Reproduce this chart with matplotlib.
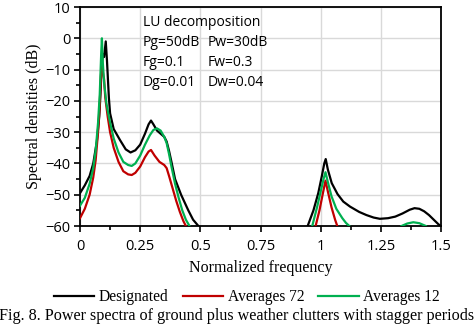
import numpy as np
import matplotlib
matplotlib.use("Agg")
import matplotlib.pyplot as plt
from matplotlib.ticker import MultipleLocator

nan = np.nan

# Designated (black)
x_des = [0, 0.02, 0.04, 0.055, 0.07, 0.08, 0.085, 0.09, 0.095, 0.1, 0.107, 0.112, 0.116,
         0.12, 0.125, 0.14, 0.166, 0.19, 0.21, 0.23, 0.25, 0.27, 0.285, 0.295, 0.305,
         0.32, 0.335, 0.35, 0.36, 0.37, 0.38, 0.395, 0.42, 0.45, 0.47, 0.492,
         nan,
         0.946, 0.97, 0.99, 1.005, 1.015, 1.021, 1.03, 1.046, 1.07, 1.094, 1.122, 1.16,
         1.19, 1.22, 1.246, 1.28, 1.31, 1.34, 1.37, 1.39, 1.41, 1.43, 1.45, 1.47, 1.49, 1.5]
y_des = [-49.5, -47, -44, -40, -33, -25, -18, -9, -5, -6, -1, -7, -13,
         -19, -24, -29, -32.5, -35.5, -36.5, -35.8, -34, -30.5, -27.5, -26.3, -27.5,
         -29.5, -30.5, -31.5, -33, -36, -39.5, -45, -50, -55, -58, -60,
         nan,
         -60, -55, -49.5, -44, -40, -38.6, -42, -46.3, -49.8, -52.2, -53.8, -55.5,
         -56.5, -57.3, -57.7, -57.5, -57, -56, -54.8, -54.3, -54.5, -55.3, -56.5, -58, -59.5, -60]

# Averages 72 (red)
x_a72 = [0, 0.02, 0.04, 0.055, 0.065, 0.075, 0.082, 0.087, 0.09, 0.094, 0.097, 0.1, 0.105,
         0.115, 0.125, 0.14, 0.16, 0.18, 0.2, 0.215, 0.23, 0.25, 0.27, 0.285, 0.295, 0.31,
         0.33, 0.35, 0.36, 0.37, 0.385, 0.4, 0.415, 0.43, 0.44,
         nan,
         0.979, 0.995, 1.008, 1.02, 1.03, 1.045, 1.06, 1.069]
y_a72 = [-57.5, -54.5, -50, -44.5, -39, -30, -21, -12, -8.5, -10, -12, -13, -19,
         -25, -30, -35, -39.5, -42.5, -43.5, -43.7, -43, -41, -38, -36.2, -35.7, -37.5,
         -39.5, -40.5, -41.5, -44, -48, -52, -55.5, -58.5, -60,
         nan,
         -60, -55, -50, -45.5, -49, -54, -58, -60]

# Averages 12 (green)
x_a12 = [0, 0.02, 0.04, 0.055, 0.065, 0.075, 0.082, 0.088, 0.091, 0.095, 0.1, 0.11, 0.125,
         0.14, 0.16, 0.18, 0.2, 0.215, 0.23, 0.25, 0.27, 0.29, 0.305, 0.32, 0.335, 0.35,
         0.36, 0.37, 0.38, 0.395, 0.41, 0.425, 0.44, 0.455,
         nan,
         0.965, 0.985, 1.0, 1.012, 1.02, 1.03, 1.045, 1.065, 1.09, 1.105, 1.119,
         nan,
         1.336, 1.36, 1.385, 1.41, 1.437]
y_a12 = [-53.5, -51, -46.5, -41.5, -36, -27, -18, -5, 0, -8, -14, -21, -27,
         -32, -36.5, -39.5, -40.5, -40.8, -40, -37.5, -34, -31, -29.3, -28.8, -29.5, -31.5,
         -33.5, -37, -41, -46.5, -51, -55, -58, -60,
         nan,
         -60, -54, -49, -45, -42.8, -46, -50.5, -54.5, -57.5, -59, -60,
         nan,
         -60, -59.2, -58.8, -59.1, -60]

labels = ["Designated", "Averages 72", "Averages 12"]
colors = ["#000000", "#C00000", "#00B050"]

x_ticks = [0, 0.25, 0.5, 0.75, 1, 1.25, 1.5]
x_ticklabels = ["0", "0.25", "0.5", "0.75", "1", "1.25", "1.5"]
y_ticks = [10, 0, -10, -20, -30, -40, -50, -60]

annot = [("LU decomposition", ""), ("Pg=50dB", "Pw=30dB"),
         ("Fg=0.1", "Fw=0.3"), ("Dg=0.01", "Dw=0.04")]

fig = plt.figure(figsize=(4.74, 3.26), dpi=100)
ax = fig.add_axes([80 / 474, 1 - 226 / 326, 361 / 474, 219 / 326])

series = [(x_des, y_des), (x_a72, y_a72), (x_a12, y_a12)]
handles = []
for (xs, ys), lab, c in zip(series, labels, colors):
    h, = ax.plot(xs, ys, color=c, lw=1.6, label=lab, zorder=3)
    handles.append(h)

ax.set_xlim(0, 1.5)
ax.set_ylim(-60, 10)
ax.set_xticks(x_ticks)
ax.set_xticklabels(x_ticklabels)
ax.set_yticks(y_ticks)
ax.xaxis.set_minor_locator(MultipleLocator(0.125))
ax.yaxis.set_minor_locator(MultipleLocator(5))
ax.grid(True, which="major", color="#D9D9D9", lw=1.0, zorder=0)
ax.set_axisbelow(True)
for s in ax.spines.values():
    s.set_linewidth(1.3)
    s.set_color("black")
ax.tick_params(which="both", direction="out", length=4, width=1.2, labelsize=10.5, pad=3)
ax.tick_params(which="minor", length=3)
ax.tick_params(axis="x", pad=5)
for lab in ax.get_xticklabels() + ax.get_yticklabels():
    lab.set_family("Open Sans")

ax.set_xlabel("Normalized frequency", family="Liberation Serif", fontsize=11.5, labelpad=5)
ax.set_ylabel("Spectral densities (dB)", family="Liberation Serif", fontsize=11.5, labelpad=2)

ys_txt = [23, 43, 62, 82]
for (a, b), yp in zip(annot, ys_txt):
    fig.text(143 / 474, 1 - yp / 326, a, family="Open Sans", fontsize=10, va="center", ha="left")
    if b:
        fig.text(208 / 474, 1 - yp / 326, b, family="Open Sans", fontsize=10, va="center", ha="left")

fig.legend(handles=handles, labels=labels, loc="center", bbox_to_anchor=(247 / 474, 1 - 297 / 326),
           ncol=3, frameon=False, handlelength=2.6, columnspacing=0.9, handletextpad=0.3,
           prop={"family": "Liberation Serif", "size": 11.2})

fig.text(0.5, 1 - 316 / 326,
         "Fig. 8. Power spectra of ground plus weather clutters with stagger periods",
         family="Liberation Serif", fontsize=11.6, ha="center", va="center")

fig.savefig("out.png", dpi=100)
